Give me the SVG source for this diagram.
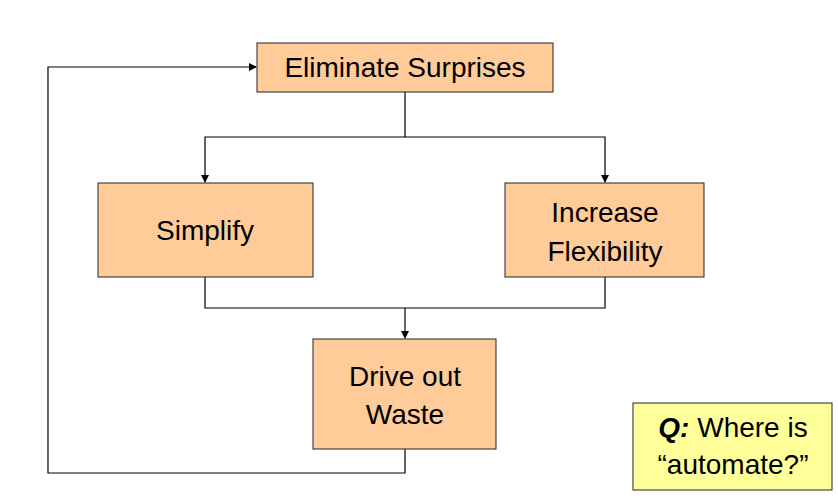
<svg xmlns="http://www.w3.org/2000/svg" width="838" height="501" viewBox="0 0 838 501">
<defs>
<marker id="ah" markerWidth="8" markerHeight="8" refX="7" refY="4" orient="auto" markerUnits="userSpaceOnUse"><path d="M0,0 L8,4 L0,8 z" fill="#000"/></marker>
<style>
.n{fill:#FFCC99;stroke:#222;stroke-width:1}
.t{font-family:"Liberation Sans",Arial,sans-serif;font-size:28px;fill:#000;text-anchor:middle}
.c{fill:none;stroke:#000;stroke-width:1.2}
</style>
</defs>
<rect width="838" height="501" fill="#fff"/>
<g id="connectors">
<path class="c" d="M405,92 V137 H205 V182" marker-end="url(#ah)"/>
<path class="c" d="M405,137 H605 V182" marker-end="url(#ah)"/>
<path class="c" d="M205,277 V308 H605 V277"/>
<path class="c" d="M405,308 V338" marker-end="url(#ah)"/>
<path class="c" d="M405,449 V473 H48 V67 H256" marker-end="url(#ah)"/>
</g>
<g id="eliminate"><rect class="n" x="257" y="43" width="296" height="49"/><text class="t" x="405" y="77">Eliminate Surprises</text></g>
<g id="simplify"><rect class="n" x="98" y="183" width="215" height="94"/><text class="t" x="205" y="240">Simplify</text></g>
<g id="flexibility"><rect class="n" x="505" y="183" width="199" height="94"/><text class="t" x="605" y="222">Increase</text><text class="t" x="605" y="261">Flexibility</text></g>
<g id="waste"><rect class="n" x="313" y="339" width="183" height="110"/><text class="t" x="405" y="386">Drive out</text><text class="t" x="405" y="424">Waste</text></g>
<g id="question"><rect x="633" y="403" width="199" height="87" fill="#FFFF99" stroke="#222"/><text class="t" x="733" y="437"><tspan font-weight="bold" font-style="italic">Q:</tspan>  Where is</text><text class="t" x="733" y="474">“automate?”</text></g>
</svg>
